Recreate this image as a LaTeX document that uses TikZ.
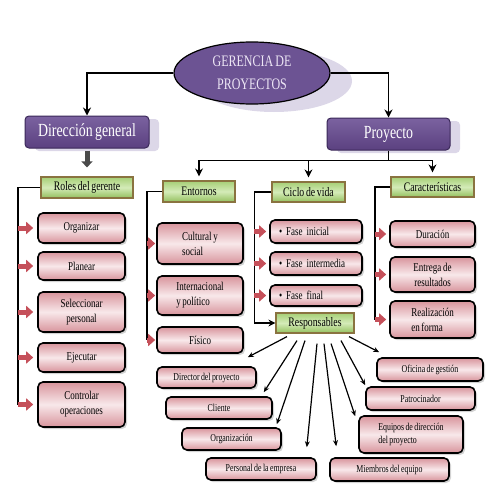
\documentclass[tikz,border=0pt]{standalone}
\usepackage{fontspec}
\setmainfont{Liberation Serif}[FakeStretch=0.75, WordSpace=0.7]
\usepackage{tikz}
\usetikzlibrary{shapes,shapes.geometric,arrows.meta,shadows,calc,positioning}

\definecolor{purpletop}{HTML}{7B62A0}
\definecolor{purplebot}{HTML}{5B4180}
\definecolor{purpleline}{HTML}{3A2858}
\definecolor{ellpurple}{HTML}{6C5393}
\definecolor{ellipsetext}{HTML}{EDE6F5}
\definecolor{lavshadow}{HTML}{DCD7E8}
\definecolor{greentop}{HTML}{A6CF76}
\definecolor{greenmid}{HTML}{D4EBB8}
\definecolor{greenbot}{HTML}{93C05E}
\definecolor{greenline}{HTML}{8A7340}
\definecolor{pinklight}{HTML}{F8E8EA}
\definecolor{pinkdark}{HTML}{D8949C}
\definecolor{arrowred}{HTML}{C5505A}
\definecolor{graydark}{HTML}{4A4A4A}

\begin{document}
\begin{tikzpicture}[%
x=1pt, y=-1pt,
title/.style={rectangle, rounded corners=4pt, draw=purpleline, line width=1pt,
  top color=purpletop, bottom color=purplebot, text=white,
  font=\fontsize{18.5}{20}\selectfont,
  drop shadow={shadow xshift=10pt, shadow yshift=-3pt, fill=lavshadow, opacity=1}},
head/.style={rectangle, draw=greenline, line width=1.2pt, top color=greentop,
  bottom color=greenbot, middle color=greenmid, inner sep=1pt,
  font=\fontsize{13}{14}\selectfont},
item/.style={rectangle, rounded corners=5pt, draw=black, line width=1.6pt,
  top color=pinkdark, bottom color=pinkdark, middle color=pinklight, inner sep=2pt,
  font=\fontsize{12}{15}\selectfont,
  drop shadow={shadow xshift=2pt, shadow yshift=-2pt, opacity=.35}},
member/.style={item, font=\fontsize{10.5}{13}\selectfont},
phase/.style={item, text width=74pt, align=left, inner xsep=9pt},
conn/.style={line width=1.6pt, -{Stealth[length=8pt,width=8pt]}},
spine/.style={line width=1.8pt},
redarrow/.style={line width=5pt, draw=arrowred, -{Triangle[length=7pt,width=12pt]}},
fan/.style={line width=1.2pt, -{Stealth[length=6pt,width=5pt]}}
]
\useasboundingbox (0,0) rectangle (495,495);

% top
\node[ellipse, draw=black, line width=1.2pt, fill=ellpurple, text=ellipsetext,
  minimum width=156pt, minimum height=62pt, align=center,
  font=\fontsize{16}{23}\selectfont,
  drop shadow={shadow xshift=22pt, shadow yshift=-8pt, fill=lavshadow, opacity=1}]
  (gp) at (252,73) {GERENCIA DE\\PROYECTOS};
\node[title, minimum width=124pt, minimum height=32pt] (dg) at (87,132) {Dirección general};
\node[title, minimum width=123pt, minimum height=32pt] (proy) at (388.5,134) {Proyecto};

% headers
\node[head, minimum width=92pt, minimum height=21pt] (roles) at (87,187.5) {Roles del gerente};
\node[head, minimum width=72pt, minimum height=21pt] (ent) at (199,191.5) {Entornos};
\node[head, minimum width=73pt, minimum height=20pt] (cic) at (308.5,192) {Ciclo de vida};
\node[head, minimum width=83pt, minimum height=20pt] (car) at (432.5,187) {Características};
\node[head, minimum width=78pt, minimum height=20pt] (resp) at (315,323) {Responsables};

% roles del gerente
\node[item, minimum width=87pt, minimum height=30pt] (org) at (81.5,228) {Organizar};
\node[item, minimum width=87pt, minimum height=28pt] (pla) at (81.5,266) {Planear};
\node[item, minimum width=87pt, minimum height=40pt, align=center] (sel) at (81.5,312) {Seleccionar\\personal};
\node[item, minimum width=87pt, minimum height=29pt] (eje) at (81.5,357.5) {Ejecutar};
\node[item, minimum width=87pt, minimum height=45pt, align=center] (con) at (81.5,404.5) {Controlar\\operaciones};

% entornos
\node[item, minimum width=86pt, minimum height=41pt, align=left] (cul) at (200,243.5) {Cultural y\\social};
\node[item, minimum width=86pt, minimum height=39pt, align=left] (int) at (200,295.5) {Internacional\\y político};
\node[item, minimum width=86pt, minimum height=26pt] (fis) at (200,340) {Físico};

% ciclo de vida
\node[phase, minimum height=23pt] (fi) at (316,231.5) {\textbullet\ Fase inicial};
\node[phase, minimum height=23pt] (fm) at (316,263.5) {\textbullet\ Fase intermedia};
\node[phase, minimum height=21pt] (ff) at (316,295.5) {\textbullet\ Fase final};

% caracteristicas
\node[item, minimum width=85pt, minimum height=26pt] (dur) at (432.5,234) {Duración};
\node[item, minimum width=85pt, minimum height=35pt, align=center] (entr) at (432.5,274.5) {Entrega de\\resultados};
\node[item, minimum width=85pt, minimum height=37pt, align=left] (rea) at (432.5,319.5) {Realización\\en forma};

% responsables
\node[member, minimum width=99pt, minimum height=21pt] (dir) at (206.5,377.5) {Director del proyecto};
\node[member, minimum width=106pt, minimum height=22pt] (cli) at (219,408) {Cliente};
\node[member, minimum width=99pt, minimum height=22pt] (orgz) at (231.5,439) {Organización};
\node[member, minimum width=110pt, minimum height=22pt] (per) at (261,469) {Personal de la empresa};
\node[member, minimum width=119pt, minimum height=23pt] (mie) at (389.5,469.5) {Miembros del equipo};
\node[member, minimum width=104pt, minimum height=37pt, align=left] (equ) at (411,434.5) {Equipos de dirección\\del proyecto};
\node[member, minimum width=109pt, minimum height=23pt] (pat) at (420.5,398.5) {Patrocinador};
\node[member, minimum width=106pt, minimum height=23pt] (ofi) at (430,369.5) {Oficina de gestión};

% top connectors
\draw[conn] (gp.west) -| (dg.north);
\draw[conn] (gp.east) -| (proy.north);
\draw[line width=5pt, draw=graydark, -{Triangle[length=6pt,width=11pt]},
  shorten <=2pt, shorten >=9pt] (dg.south) -- (roles.north);
\draw[line width=1.6pt] (proy.south) -- ++(0,10) coordinate (bus);
\draw[conn, shorten >=4pt] (bus) -| (ent.north);
\draw[conn, shorten >=4pt] (bus) -| (cic.north);
\draw[conn, shorten >=4pt] (bus) -| (car.north);

% spines
\coordinate (lspine) at (18,404.5);
\coordinate (espine) at (147,340);
\coordinate (cspine) at ([xshift=-17pt]cic.west);
\coordinate (kspine) at (375,319.5);
\draw[spine] (roles.west) -| (lspine);
\draw[spine] (ent.west) -| (espine);
\draw[spine] (car.west) -| (kspine);
\draw[spine, -{Stealth[length=7pt,width=7pt]}] (cic.west) -- (cspine) |- (resp.west);

\foreach \n in {org,pla,sel,eje,con}
  \draw[redarrow] (lspine |- \n.west) -- ([xshift=-4pt]\n.west);
\foreach \n in {cul,int,fis}
  \draw[redarrow] (espine |- \n.west) -- ([xshift=-1pt]\n.west);
\foreach \n in {fi,fm,ff}
  \draw[redarrow] (cspine |- \n.west) -- ([xshift=-3pt]\n.west);
\foreach \n in {dur,entr,rea}
  \draw[redarrow] (kspine |- \n.west) -- ([xshift=-3pt]\n.west);

% fan from responsables
\draw[fan] ([xshift=-28pt,yshift=-3pt]resp.south) -- ([xshift=-9pt,yshift=9pt]dir.north east);
\draw[fan] ([xshift=-18pt,yshift=-7pt]resp.south) -- ([xshift=-9pt,yshift=4pt]cli.north east);
\draw[fan] ([xshift=-10pt,yshift=-7pt]resp.south) -- ([xshift=-5pt,yshift=3pt]orgz.north east);
\draw[fan] ([xshift=2pt,yshift=-10pt]resp.south) -- ([xshift=-10pt,yshift=10pt]per.north east);
\draw[fan] ([xshift=9pt,yshift=-10pt]resp.south) -- ([xshift=7pt,yshift=11pt]mie.north west);
\draw[fan] ([xshift=16pt,yshift=-10pt]resp.south) -- ([xshift=-3pt,yshift=-1pt]equ.north west);
\draw[fan] ([xshift=26pt,yshift=-7pt]resp.south) -- ([yshift=1pt]pat.north west);
\draw[fan] ([xshift=34pt,yshift=-3pt]resp.south) -- ([xshift=3pt,yshift=5pt]ofi.north west);

\end{tikzpicture}
\end{document}
